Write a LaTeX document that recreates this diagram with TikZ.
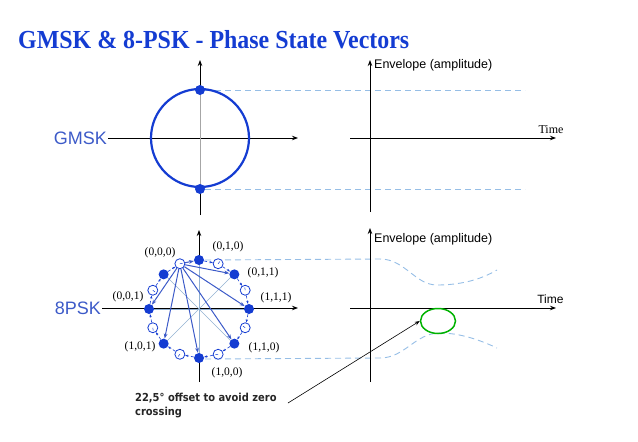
\documentclass[tikz,border=0pt]{standalone}
\usepackage{fontspec}
\setmainfont{Liberation Serif}
\setsansfont{Liberation Sans}
\newfontfamily\dvs{DejaVu Sans Condensed}
\usetikzlibrary{arrows.meta,shapes.geometric}
\definecolor{dblue}{RGB}{20,60,210}
\definecolor{lblue}{RGB}{150,190,230}
\definecolor{gblue}{RGB}{60,90,200}
\begin{document}
\begin{tikzpicture}[x=1pt,y=-1pt,
 ax/.style={line width=1pt,-{Stealth[length=6pt]}},
 dsh/.style={lblue,dashed,dash pattern=on 6pt off 4pt,line width=0.9pt},
 fdot/.style={circle,fill=dblue,inner sep=0pt,minimum size=10pt},
 odot/.style={circle,draw=dblue,fill=white,line width=0.8pt,inner sep=0pt,minimum size=10pt},
 lab/.style={font=\fontsize{11.5}{12}\selectfont,inner sep=1pt},
 varr/.style={gblue,line width=1pt,-{Stealth[length=5pt]}}]
\useasboundingbox (0,0) rectangle (638,442);
\node[anchor=west,text=dblue,font=\fontsize{26}{28}\selectfont\bfseries,xscale=0.92,inner sep=0] (title) at (18,40) {GMSK \& 8-PSK - Phase State Vectors};
% GMSK
\draw[dsh] (205,90) -- (525,90);
\draw[dsh] (205,189) -- (525,189);
\coordinate (g0) at (200,138);
\draw[ax] (110,138) -- (298,138);
\draw[ax] (200,215) -- (200,60);
\draw[dblue,line width=2.2pt] (g0) circle (49);
\draw[gray!70,line width=0.6pt] (200,90) -- (200,189);
\node[fdot] (gt) at (200,90) {};
\node[fdot] (gb) at (200,189) {};
\node[anchor=east,text=gblue,font=\sffamily\fontsize{18}{19}\selectfont,inner sep=1pt] (gl) at (108,138) {GMSK};
\draw[line width=1pt] (gl.east) -- (110,138);
\draw[ax] (370,212) -- (370,60);
\draw[ax] (350,138) -- (556,138);
\node[anchor=west,font=\sffamily\fontsize{12.5}{13}\selectfont,inner sep=1pt] (e1) at (373,65) {Envelope (amplitude)};
\node[anchor=east,font=\fontsize{12}{13}\selectfont] (t1) at (567,130) {Time};
% 8PSK
\draw[dsh] (205,260) -- (380,259) .. controls (405,259) and (415,285) .. (437,285) .. controls (460,285) and (480,280) .. (497,270);
\draw[dsh] (205,359) -- (380,358) .. controls (405,358) and (415,333) .. (440,333) .. controls (460,333) and (480,340) .. (497,348);
\draw[ax] (110,308) -- (298,308);
\draw[ax] (199,382) -- (199,230);
\foreach \a in {0,45,...,315}{
  \draw[lblue!80!gray,line width=0.5pt] (199,309) -- ++(\a:49);
}
\begin{scope}[shift={(199,309)}]
\foreach \a/\n in {90/f1,45/f2,0/f3,-45/f4,-90/f5,-135/f6,180/f7,135/f8}{
  \node[fdot] (\n) at ({50*cos(\a)},{-49*sin(\a)}) {};
}
\foreach \a/\n in {112.5/o1,67.5/o2,22.5/o3,-22.5/o4,-67.5/o5,-112.5/o6,-157.5/o7,157.5/o8}{
  \node[odot] (\n) at ({50*cos(\a)},{-49*sin(\a)}) {};
  \draw[dblue,line width=0.5pt] (\n.center) -- ++(\a-120:2.8);
}
\end{scope}
\foreach \n in {f2,f3,f4,f5,f6,f7}{\draw[varr] (o1) -- (\n);}
\draw[varr] (o1) -- (f1);
\foreach \p/\q in {f1/o2,o2/f2,f2/o3,o3/f3,f3/o4,o4/f4,f4/o5,o5/f5,f5/o6,o6/f6,f6/o7,o7/f7,f7/o8,o8/f8,f8/o1}{
  \draw[dblue,densely dashed,line width=0.6pt,-{Stealth[length=3pt]}] (\p) -- (\q);
}
\node[lab] at (160,253) {(0,0,0)};
\node[lab] at (228,247) {(0,1,0)};
\node[lab] at (263,273) {(0,1,1)};
\node[lab] at (276,298) {(1,1,1)};
\node[lab] at (128,297) {(0,0,1)};
\node[lab] at (140,347) {(1,0,1)};
\node[lab] at (264,348) {(1,1,0)};
\node[lab] at (227,373) {(1,0,0)};
\node[anchor=east,text=gblue,font=\sffamily\fontsize{18}{19}\selectfont,inner sep=1pt] (pl) at (102,308) {8PSK};
\draw[line width=1pt] (pl.east) -- (110,308);
\draw[ax] (370,382) -- (370,228);
\draw[ax] (350,308) -- (556,308);
\node[anchor=west,font=\sffamily\fontsize{12.5}{13}\selectfont,inner sep=1pt] (e2) at (373,239) {Envelope (amplitude)};
\node[anchor=east,font=\sffamily\fontsize{12}{13}\selectfont] (t2) at (567,299) {Time};
\node[draw=green!70!black,line width=1.5pt,ellipse,minimum width=35pt,minimum height=25pt,inner sep=0] (el) at (438,321) {};
\node[anchor=north west,font=\dvs\bfseries\fontsize{11}{14}\selectfont,align=left,inner sep=0,text=black!85] (note) at (135,393) {22,5° offset to avoid zero\\crossing};
\coordinate (ns) at (288,403);
\draw[line width=0.6pt,-{Stealth[length=5pt]}] (ns) -- (el.west);
\end{tikzpicture}
\end{document}
